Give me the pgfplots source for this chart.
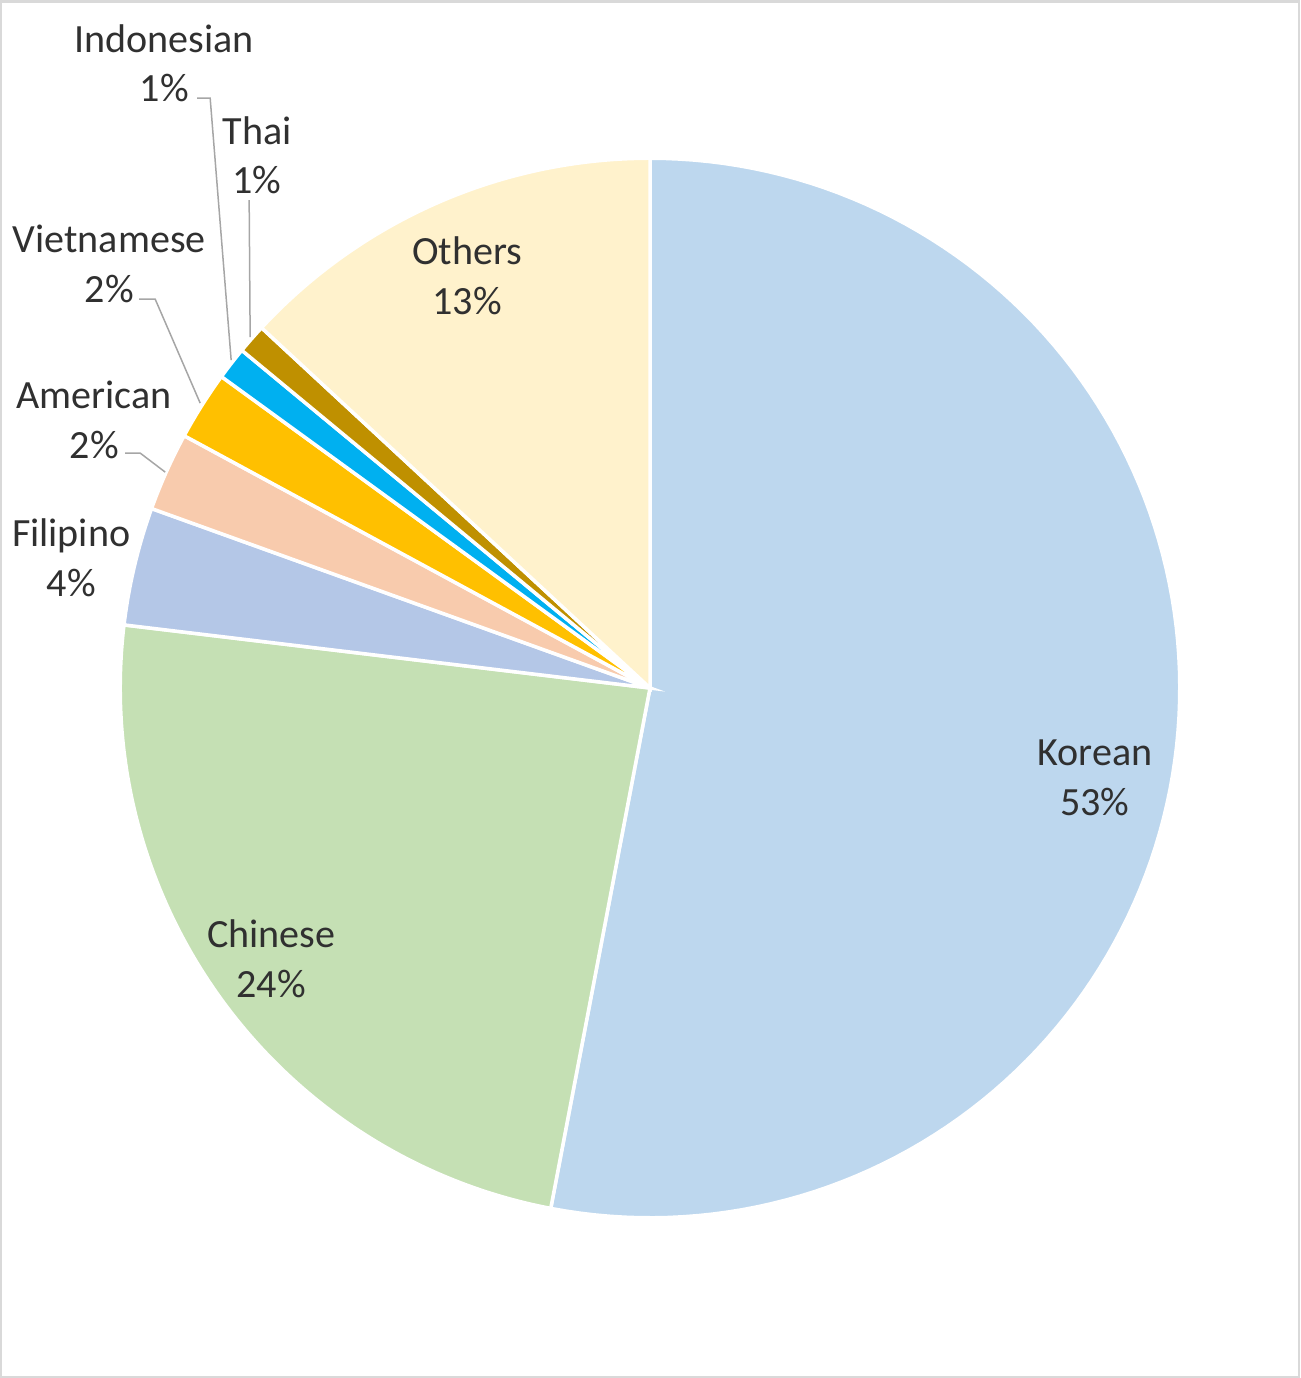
\documentclass[border=0pt]{standalone}
\usepackage{pgfplots}
\pgfplotsset{compat=1.18}
\usepackage{fontspec}
\setmainfont{Carlito}
\definecolor{cKor}{HTML}{BDD7EE}
\definecolor{cChi}{HTML}{C5E0B4}
\definecolor{cFil}{HTML}{B4C7E7}
\definecolor{cAme}{HTML}{F8CBAD}
\definecolor{cVie}{HTML}{FFC000}
\definecolor{cIndo}{HTML}{00B0F0}
\definecolor{cTha}{HTML}{BF9000}
\definecolor{cOth}{HTML}{FFF2CC}
\definecolor{txt}{HTML}{303030}
\definecolor{leader}{HTML}{A6A6A6}
% shares (percent), clockwise from 12 o'clock
\def\vKor{53.0}
\def\vChi{23.9}
\def\vFil{3.6}
\def\vAme{2.4}
\def\vVie{2.1}
\def\vIndo{1.0}
\def\vTha{0.9}
\def\vOth{13.1}
\tikzset{
  wedge/.style={draw=white, line width=1pt, samples=120},
  lbl/.style={align=center, text=txt, font=\fontsize{11.4}{14.2}\selectfont, inner sep=0pt},
}
\begin{document}
\begin{tikzpicture}
\pgfmathsetmacro\aA{90}
\pgfmathsetmacro\aB{\aA-3.6*\vKor}
\pgfmathsetmacro\aC{\aB-3.6*\vChi}
\pgfmathsetmacro\aD{\aC-3.6*\vFil}
\pgfmathsetmacro\aE{\aD-3.6*\vAme}
\pgfmathsetmacro\aF{\aE-3.6*\vVie}
\pgfmathsetmacro\aG{\aF-3.6*\vIndo}
\pgfmathsetmacro\aH{\aG-3.6*\vTha}
\pgfmathsetmacro\aI{\aH-3.6*\vOth}
\begin{axis}[
  width=13cm, height=13.78cm, scale only axis,
  xmin=0, xmax=1300, ymin=0, ymax=1378, y dir=reverse,
  hide axis, clip=false,
]
\draw[color=black!15, line width=0.25mm] (axis cs:1,1) rectangle (axis cs:1299,1377);
\addplot[wedge, fill=cKor, domain=\aB:\aA] ({650+530*cos(x)},{688-530*sin(x)}) -- (axis cs:650,688) -- cycle;
\addplot[wedge, fill=cChi, domain=\aC:\aB] ({650+530*cos(x)},{688-530*sin(x)}) -- (axis cs:650,688) -- cycle;
\addplot[wedge, fill=cFil, domain=\aD:\aC, samples=30] ({650+530*cos(x)},{688-530*sin(x)}) -- (axis cs:650,688) -- cycle;
\addplot[wedge, fill=cAme, domain=\aE:\aD, samples=30] ({650+530*cos(x)},{688-530*sin(x)}) -- (axis cs:650,688) -- cycle;
\addplot[wedge, fill=cVie, domain=\aF:\aE, samples=30] ({650+530*cos(x)},{688-530*sin(x)}) -- (axis cs:650,688) -- cycle;
\addplot[wedge, fill=cIndo, domain=\aG:\aF, samples=20] ({650+530*cos(x)},{688-530*sin(x)}) -- (axis cs:650,688) -- cycle;
\addplot[wedge, fill=cTha, domain=\aH:\aG, samples=20] ({650+530*cos(x)},{688-530*sin(x)}) -- (axis cs:650,688) -- cycle;
\addplot[wedge, fill=cOth, domain=\aI:\aH, samples=60] ({650+530*cos(x)},{688-530*sin(x)}) -- (axis cs:650,688) -- cycle;
% leader lines
\draw[leader, line width=0.15mm] (axis cs:197,98) -- (axis cs:210,98) -- (axis cs:231,360);
\draw[leader, line width=0.15mm] (axis cs:249,200) -- (axis cs:250,337);
\draw[leader, line width=0.15mm] (axis cs:139,299) -- (axis cs:155,299) -- (axis cs:200,403);
\draw[leader, line width=0.15mm] (axis cs:125,453) -- (axis cs:140,453) -- (axis cs:165,472);
% labels
\node[lbl] at (axis cs:1095,778) {Korean\\53\%};
\node[lbl] at (axis cs:271,959) {Chinese\\24\%};
\node[lbl] at (axis cs:467,276) {Others\\13\%};
\node[lbl] at (axis cs:71,558) {Filipino\\4\%};
\node[lbl] at (axis cs:94,420) {American\\2\%};
\node[lbl] at (axis cs:109,264) {Vietnamese\\2\%};
\node[lbl] at (axis cs:164,63) {Indonesian\\1\%};
\node[lbl] at (axis cs:257,155) {Thai\\1\%};
\end{axis}
\end{tikzpicture}
\end{document}
